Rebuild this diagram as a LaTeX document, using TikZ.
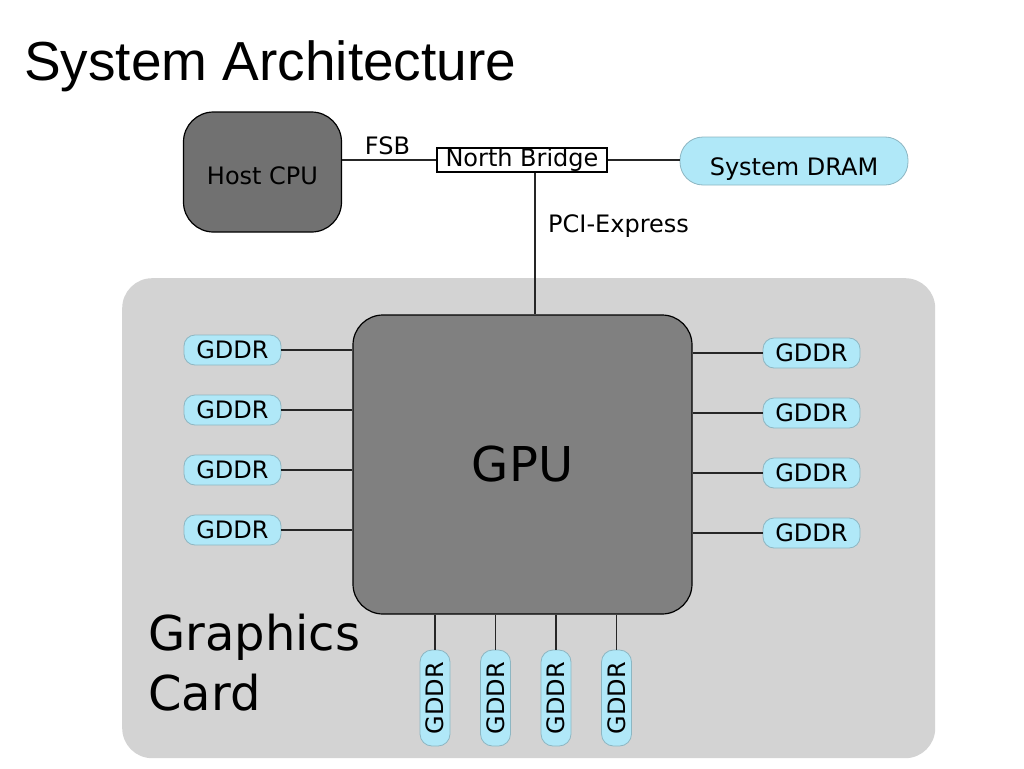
\documentclass[tikz,border=0pt]{standalone}
\usepackage{fontspec}
\usepackage{xcolor}
\setmainfont{DejaVu Sans}
\newfontfamily\titlefont{Liberation Sans}
\usepackage{tikz}
\usetikzlibrary{calc}

\definecolor{cardgray}{HTML}{D3D3D3}
\definecolor{gpugray}{HTML}{808080}
\definecolor{cpugray}{HTML}{717171}
\definecolor{memblue}{HTML}{B0E8F8}
\definecolor{memedge}{HTML}{8DB6C2}

\begin{document}
\begin{tikzpicture}[x=1pt,y=-1pt,
		chip/.style={draw=black,line width=1.2pt,rounded corners=30pt,inner sep=0pt},
		memory/.style={draw=memedge,fill=memblue,line width=0.8pt,inner sep=0pt,font=\fontsize{24}{24}\selectfont},
		link/.style={draw=black!85,line width=1.2pt},
		label/.style={inner sep=0pt,font=\fontsize{24}{24}\selectfont}]
			\useasboundingbox[fill=white] (0,0) rectangle (1024,768);
			\node[anchor=base west,inner sep=0pt] (title) at (24,80)
			{\titlefont\fontsize{55}{55}\selectfont System Architecture};

			\node[fill=cardgray,rounded corners=30pt,minimum width=813pt,minimum height=480pt,anchor=north west] (card) at (122,278) {};
			\node[anchor=north west,align=left,inner sep=0pt,font=\fontsize{48}{60}\selectfont] (cardname) at (148,614) {Graphics\\Card};

			\node[chip,fill=gpugray,minimum width=339pt,minimum height=299pt,font=\fontsize{48}{48}\selectfont] (gpu) at (522.5,464.5) {GPU};
			\node[chip,fill=cpugray,minimum width=158pt,minimum height=120pt,text height=25pt,text depth=0pt,font=\fontsize{24}{24}\selectfont] (cpu) at (262.5,172) {Host CPU};
			\node[draw=black,fill=white,line width=1.2pt,inner sep=0pt,minimum width=170pt,minimum height=24pt,font=\fontsize{24}{24}\selectfont] (nb) at (522,160) {North Bridge};
			\node[memory,rounded corners=23pt,minimum width=228pt,minimum height=48pt,text height=28pt,text depth=0pt] (dram) at (794,161) {System DRAM};

			\node[label] (fsb) at (387.5,146) {FSB};
			\node[label,anchor=base west] (pcie) at (548,232) {PCI-Express};

			\coordinate (pci) at (535,0);
			\draw[link] (cpu.east |- nb.west) -- (nb.west);
			\draw[link] (nb.east) -- (nb.east -| dram.west);
			\draw[link] (nb.south -| pci) -- (gpu.north -| pci);

			\foreach \i in {0,1,2,3}
			{
				\node[memory,rounded corners=11pt,minimum width=97pt,minimum height=30pt] (ml\i) at (232.5,350+60*\i) {GDDR};
				\draw[link] (ml\i.east) -- (ml\i.east -| gpu.west);
				\node[memory,rounded corners=11pt,minimum width=97pt,minimum height=30pt] (mr\i) at (811.5,353+60*\i) {GDDR};
				\draw[link] (mr\i.west) -- (mr\i.west -| gpu.east);
				\node[memory,rounded corners=12pt,minimum width=30pt,minimum height=96pt] (mb\i) at (435+60.5*\i,698) {\rotatebox{90}{GDDR}};
				\draw[link] (mb\i.north) -- (mb\i.north |- gpu.south);
			}
		\end{tikzpicture}
\end{document}
